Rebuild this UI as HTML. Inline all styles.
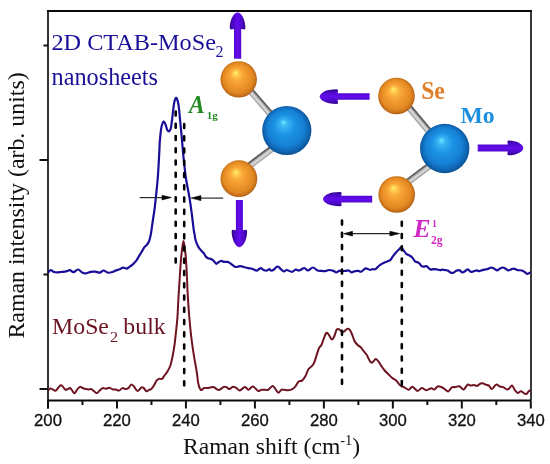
<!DOCTYPE html>
<html><head><meta charset="utf-8"><title>Raman spectra</title>
<style>html,body{margin:0;padding:0;background:#fff;}svg{display:block;}</style>
</head><body>
<svg width="550" height="464" viewBox="0 0 550 464">
<defs>
<radialGradient id="seg" cx="0.5" cy="0.5" r="0.53" fx="0.41" fy="0.31">
<stop offset="0" stop-color="#fff080"/>
<stop offset="0.12" stop-color="#ffd052"/>
<stop offset="0.32" stop-color="#f8a838"/>
<stop offset="0.58" stop-color="#ee942a"/>
<stop offset="0.78" stop-color="#e08822"/>
<stop offset="0.9" stop-color="#c87018"/>
<stop offset="1" stop-color="#985414"/>
</radialGradient>
<radialGradient id="mog" cx="0.5" cy="0.5" r="0.53" fx="0.43" fy="0.33">
<stop offset="0" stop-color="#70e8ff"/>
<stop offset="0.13" stop-color="#3cb6f4"/>
<stop offset="0.4" stop-color="#1c92e4"/>
<stop offset="0.7" stop-color="#1580d4"/>
<stop offset="0.86" stop-color="#0f66b4"/>
<stop offset="1" stop-color="#0a4680"/>
</radialGradient>
<linearGradient id="arrg" x1="0" y1="0" x2="0" y2="1">
<stop offset="0" stop-color="#34088a"/>
<stop offset="0.2" stop-color="#4a08c6"/>
<stop offset="0.5" stop-color="#640cec"/>
<stop offset="0.8" stop-color="#4a08c4"/>
<stop offset="1" stop-color="#2e0878"/>
</linearGradient>
<linearGradient id="bg0" gradientUnits="userSpaceOnUse" x1="262.79" y1="100.04" x2="257.81" y2="104.36"><stop offset="0" stop-color="#383838"/><stop offset="0.2" stop-color="#727272"/><stop offset="0.52" stop-color="#dcdcdc"/><stop offset="0.78" stop-color="#c8c8c8"/><stop offset="1" stop-color="#888888"/></linearGradient><linearGradient id="bg1" gradientUnits="userSpaceOnUse" x1="259.91" y1="153.56" x2="263.89" y2="158.84"><stop offset="0" stop-color="#383838"/><stop offset="0.2" stop-color="#727272"/><stop offset="0.52" stop-color="#dcdcdc"/><stop offset="0.78" stop-color="#c8c8c8"/><stop offset="1" stop-color="#888888"/></linearGradient><linearGradient id="bg2" gradientUnits="userSpaceOnUse" x1="422.43" y1="118.28" x2="417.37" y2="122.52"><stop offset="0" stop-color="#383838"/><stop offset="0.2" stop-color="#727272"/><stop offset="0.52" stop-color="#dcdcdc"/><stop offset="0.78" stop-color="#c8c8c8"/><stop offset="1" stop-color="#888888"/></linearGradient><linearGradient id="bg3" gradientUnits="userSpaceOnUse" x1="417.41" y1="170.56" x2="421.39" y2="175.84"><stop offset="0" stop-color="#383838"/><stop offset="0.2" stop-color="#727272"/><stop offset="0.52" stop-color="#dcdcdc"/><stop offset="0.78" stop-color="#c8c8c8"/><stop offset="1" stop-color="#888888"/></linearGradient></defs>
<rect width="550" height="464" fill="#fff"/>
<g fill="none" stroke="#111" stroke-width="2">
<line x1="48" y1="10" x2="48" y2="408.6" stroke="#333"/>
<line x1="531" y1="10" x2="531" y2="400.5" stroke="#3a3a3a"/>
<path d="M47,11 L532,11 M47,400.6 L531,400.6" stroke="#0a0a0a"/>
<line x1="48.00" y1="400.5" x2="48.00" y2="408.50"/><line x1="82.49" y1="400.5" x2="82.49" y2="405.00"/><line x1="116.97" y1="400.5" x2="116.97" y2="408.50"/><line x1="151.46" y1="400.5" x2="151.46" y2="405.00"/><line x1="185.94" y1="400.5" x2="185.94" y2="408.50"/><line x1="220.43" y1="400.5" x2="220.43" y2="405.00"/><line x1="254.91" y1="400.5" x2="254.91" y2="408.50"/><line x1="289.40" y1="400.5" x2="289.40" y2="405.00"/><line x1="323.89" y1="400.5" x2="323.89" y2="408.50"/><line x1="358.37" y1="400.5" x2="358.37" y2="405.00"/><line x1="392.86" y1="400.5" x2="392.86" y2="408.50"/><line x1="427.34" y1="400.5" x2="427.34" y2="405.00"/><line x1="461.83" y1="400.5" x2="461.83" y2="408.50"/><line x1="496.31" y1="400.5" x2="496.31" y2="405.00"/><line x1="530.80" y1="400.5" x2="530.80" y2="408.50"/>
<line x1="43.5" y1="45.5" x2="48" y2="45.5"/><line x1="39.5" y1="160.0" x2="48" y2="160.0"/><line x1="43.5" y1="274.5" x2="48" y2="274.5"/><line x1="39.5" y1="389.0" x2="48" y2="389.0"/>
</g>
<path d="M48.0,272.7 C48.5,272.2 49.8,270.1 50.7,270.0 C51.6,269.9 52.5,271.4 53.5,271.8 C54.5,272.2 55.8,272.4 57.0,272.4 C58.2,272.4 59.2,272.2 60.7,272.0 C62.2,271.8 64.7,271.6 66.2,271.3 C67.7,271.0 68.6,270.1 69.8,270.2 C71.0,270.3 72.1,272.3 73.5,272.2 C74.9,272.1 76.5,269.4 78.0,269.5 C79.5,269.6 81.1,272.1 82.5,272.7 C83.9,273.3 84.8,273.4 86.2,273.3 C87.6,273.2 89.2,272.1 90.7,271.8 C92.2,271.5 93.8,271.5 95.3,271.6 C96.8,271.8 98.4,272.9 99.8,272.7 C101.2,272.5 102.1,270.5 103.5,270.5 C104.9,270.5 106.5,272.4 108.0,272.7 C109.5,272.9 111.2,272.4 112.5,272.0 C113.8,271.6 114.3,271.1 115.5,270.6 C116.7,270.2 118.5,269.8 119.8,269.3 C121.1,268.8 121.9,267.7 123.1,267.6 C124.3,267.5 125.6,268.8 126.8,268.6 C128.0,268.4 129.1,267.1 130.1,266.4 C131.1,265.7 132.1,264.9 132.8,264.3 C133.6,263.7 134.0,263.2 134.6,262.5 C135.2,261.8 135.8,261.3 136.5,260.3 C137.2,259.3 138.1,257.7 138.8,256.5 C139.5,255.3 140.2,254.2 140.8,253.2 C141.4,252.2 141.9,251.2 142.5,250.3 C143.1,249.4 143.4,248.5 144.1,247.6 C144.8,246.7 145.9,245.8 146.6,245.0 C147.3,244.2 147.9,243.5 148.4,242.6 C148.9,241.7 149.3,240.8 149.7,239.3 C150.1,237.8 150.5,236.3 151.0,233.4 C151.5,230.5 152.0,226.3 152.6,222.1 C153.2,217.9 154.1,212.8 154.7,208.1 C155.3,203.4 155.7,198.7 156.2,194.0 C156.7,189.3 157.2,184.8 157.6,180.0 C158.0,175.2 158.3,170.0 158.6,165.0 C158.9,160.0 159.2,153.9 159.4,150.0 C159.6,146.1 159.5,145.1 159.8,141.7 C160.1,138.3 160.6,132.7 161.0,129.7 C161.4,126.7 161.9,124.9 162.4,123.6 C162.9,122.2 163.3,121.4 163.8,121.6 C164.3,121.8 164.9,123.2 165.5,124.5 C166.1,125.8 166.6,128.5 167.2,129.7 C167.8,130.8 168.4,131.6 169.0,131.4 C169.6,131.2 170.2,130.5 170.7,128.8 C171.2,127.1 171.5,124.0 171.9,121.0 C172.3,118.0 172.7,114.0 173.1,110.7 C173.5,107.4 174.0,103.4 174.5,101.2 C175.0,99.0 175.5,98.1 175.9,97.8 C176.3,97.5 176.8,98.5 177.2,99.5 C177.6,100.5 178.0,102.0 178.3,103.8 C178.6,105.6 178.9,107.2 179.2,110.3 C179.5,113.4 179.9,118.4 180.3,122.4 C180.7,126.4 181.1,130.2 181.5,134.5 C181.9,138.8 182.3,143.7 182.7,148.3 C183.1,152.9 183.6,158.4 184.0,162.0 C184.4,165.6 184.6,167.3 184.9,170.0 C185.2,172.7 185.5,175.2 185.9,178.0 C186.3,180.8 186.9,183.6 187.5,187.0 C188.1,190.4 188.9,193.9 189.6,198.4 C190.3,202.9 191.1,208.8 191.8,214.0 C192.5,219.2 193.2,226.0 193.7,229.5 C194.2,233.0 194.3,233.1 194.7,235.0 C195.0,236.9 195.1,238.9 195.8,241.0 C196.5,243.1 197.7,245.7 198.7,247.4 C199.7,249.1 200.8,250.0 201.6,251.0 C202.4,252.0 203.1,252.2 203.8,253.2 C204.5,254.2 205.3,256.0 206.0,256.8 C206.7,257.7 207.3,257.9 208.2,258.3 C209.0,258.7 210.2,258.6 211.1,259.0 C211.9,259.4 212.5,259.7 213.3,260.5 C214.2,261.3 215.3,263.5 216.2,263.8 C217.0,264.1 217.6,262.8 218.4,262.3 C219.2,261.8 220.3,261.0 221.3,260.9 C222.3,260.8 223.2,261.7 224.2,261.9 C225.2,262.1 226.2,261.8 227.1,261.9 C227.9,262.0 228.5,262.1 229.3,262.6 C230.2,263.1 231.1,264.1 232.2,264.8 C233.3,265.5 234.7,266.8 235.8,267.0 C236.9,267.2 237.7,266.4 238.7,266.3 C239.7,266.2 240.6,266.1 241.6,266.3 C242.6,266.5 243.4,267.0 244.5,267.3 C245.6,267.6 247.1,268.0 248.2,268.2 C249.3,268.4 250.1,268.3 251.1,268.5 C252.1,268.7 253.0,269.2 254.0,269.6 C255.0,270.0 255.8,270.8 256.9,270.6 C258.0,270.4 259.4,268.3 260.5,268.2 C261.6,268.1 262.5,269.5 263.5,269.9 C264.5,270.3 265.4,270.7 266.4,270.6 C267.4,270.5 268.6,269.2 269.3,269.2 C270.0,269.2 270.1,270.4 270.8,270.5 C271.5,270.6 272.6,270.4 273.7,269.7 C274.8,269.0 276.3,266.7 277.4,266.5 C278.5,266.3 279.2,267.8 280.3,268.6 C281.4,269.4 282.8,271.3 283.9,271.5 C285.0,271.7 285.5,269.9 286.8,270.0 C288.1,270.1 290.4,271.9 291.9,271.9 C293.3,271.8 294.3,269.9 295.5,269.7 C296.7,269.5 297.7,270.8 299.2,270.5 C300.7,270.2 302.9,268.0 304.3,268.0 C305.8,268.0 306.4,270.6 307.9,270.5 C309.3,270.4 311.4,267.5 313.0,267.5 C314.6,267.5 315.9,269.9 317.4,270.5 C318.8,271.1 320.4,270.8 321.7,270.9 C323.0,271.0 324.2,271.3 325.4,271.2 C326.6,271.1 327.7,270.1 329.0,270.0 C330.3,269.9 332.2,270.5 333.4,270.9 C334.6,271.3 335.3,272.3 336.3,272.3 C337.3,272.3 338.2,271.1 339.2,270.9 C340.2,270.7 341.4,271.0 342.5,271.0 C343.6,271.0 344.8,270.9 345.8,270.8 C346.8,270.7 347.7,270.2 348.7,270.5 C349.7,270.8 350.6,272.2 351.6,272.3 C352.6,272.4 353.4,271.6 354.5,271.3 C355.6,271.1 357.1,270.7 358.2,270.8 C359.3,270.9 359.9,272.1 361.1,271.7 C362.3,271.3 364.1,268.7 365.5,268.4 C366.9,268.1 368.6,269.7 369.8,269.8 C371.0,269.9 371.7,269.2 372.7,269.1 C373.7,269.0 374.5,269.7 375.6,269.1 C376.7,268.5 378.2,266.4 379.3,265.5 C380.4,264.6 381.1,264.2 382.2,263.6 C383.3,263.0 384.5,262.7 385.8,262.1 C387.1,261.5 389.0,261.1 390.2,260.1 C391.4,259.1 392.1,257.3 393.1,256.0 C394.1,254.7 395.0,253.5 396.0,252.4 C397.0,251.3 398.0,250.3 398.9,249.5 C399.8,248.7 400.2,247.4 401.1,247.6 C402.0,247.8 403.1,249.9 404.0,250.9 C404.9,251.9 405.3,253.1 406.2,253.8 C407.1,254.5 408.1,254.7 409.1,255.3 C410.1,255.9 411.0,256.2 412.0,257.2 C413.0,258.2 413.8,260.2 414.9,261.1 C416.0,262.1 417.7,262.1 418.8,262.9 C419.9,263.7 420.7,265.5 421.5,266.1 C422.3,266.7 422.9,266.6 423.7,266.6 C424.5,266.6 425.7,265.9 426.5,266.1 C427.3,266.3 427.9,267.4 428.6,268.0 C429.3,268.6 430.0,269.4 430.8,269.6 C431.6,269.8 432.5,269.1 433.5,269.1 C434.5,269.1 435.7,269.2 436.8,269.4 C437.9,269.6 439.1,270.2 440.1,270.2 C441.1,270.2 441.9,269.6 442.8,269.6 C443.7,269.6 444.7,270.1 445.5,270.2 C446.3,270.3 446.9,270.1 447.7,270.5 C448.5,270.9 449.6,272.0 450.5,272.4 C451.4,272.8 452.3,273.1 453.2,272.9 C454.1,272.7 454.9,271.4 455.9,271.0 C456.9,270.6 458.1,270.0 459.2,270.2 C460.3,270.4 461.5,272.3 462.5,272.4 C463.5,272.5 464.3,271.5 465.2,271.0 C466.1,270.5 467.0,269.3 467.9,269.4 C468.8,269.5 469.7,271.5 470.6,271.8 C471.5,272.1 472.4,271.6 473.4,271.4 C474.4,271.1 475.9,270.3 476.8,270.3 C477.7,270.3 478.1,271.2 479.0,271.2 C479.9,271.2 481.3,270.4 482.4,270.1 C483.5,269.8 484.9,269.6 485.8,269.4 C486.7,269.2 487.1,269.2 488.0,268.9 C488.9,268.6 490.4,267.6 491.4,267.5 C492.4,267.4 493.2,268.1 494.2,268.6 C495.1,269.1 496.2,270.3 497.1,270.3 C498.1,270.3 499.0,269.1 499.9,268.6 C500.8,268.1 501.8,267.5 502.7,267.5 C503.6,267.5 504.6,268.1 505.5,268.6 C506.4,269.1 507.4,270.4 508.3,270.5 C509.2,270.6 510.2,269.7 511.1,269.4 C512.1,269.1 513.0,268.5 514.0,268.6 C515.0,268.7 516.1,269.8 517.4,270.1 C518.7,270.4 520.6,270.1 521.9,270.5 C523.2,270.9 524.3,271.9 525.2,272.5 C526.1,273.1 526.6,273.9 527.5,273.9 C528.4,273.8 530.0,272.5 530.5,272.2" fill="none" stroke="#1a0e98" stroke-width="2.2" stroke-linejoin="round"/>
<path d="M48.3,390.2 C48.7,389.9 49.8,388.6 50.5,388.5 C51.2,388.4 51.8,389.0 52.6,389.4 C53.4,389.8 54.5,390.9 55.4,390.7 C56.3,390.5 57.2,388.9 58.1,388.0 C59.0,387.1 60.0,385.5 60.8,385.3 C61.6,385.1 62.3,386.2 63.0,386.9 C63.7,387.6 64.4,389.2 65.2,389.6 C66.0,390.0 67.1,389.4 67.9,389.1 C68.7,388.8 69.4,387.7 70.1,388.0 C70.8,388.3 71.6,389.8 72.3,390.7 C73.0,391.6 73.7,393.4 74.5,393.2 C75.3,393.0 76.3,390.7 77.2,389.6 C78.1,388.6 79.0,387.2 79.9,386.9 C80.8,386.6 81.6,387.6 82.6,388.0 C83.6,388.4 84.9,388.9 85.9,389.1 C86.9,389.3 87.7,389.4 88.6,389.4 C89.5,389.4 90.5,388.8 91.4,389.1 C92.3,389.4 93.2,390.6 94.1,391.3 C95.0,392.0 95.9,393.2 96.8,393.1 C97.7,393.0 98.5,391.5 99.5,390.7 C100.5,389.9 101.7,388.4 102.8,388.1 C103.9,387.8 104.9,388.9 106.0,388.8 C107.1,388.7 108.2,387.6 109.3,387.7 C110.4,387.8 111.4,388.9 112.5,389.2 C113.6,389.5 114.7,389.3 115.8,389.5 C116.9,389.7 118.0,390.8 119.1,390.6 C120.2,390.4 121.3,388.4 122.4,388.1 C123.5,387.8 124.6,389.0 125.6,389.0 C126.6,389.0 127.5,388.8 128.4,388.1 C129.3,387.4 130.2,384.9 131.1,384.6 C132.0,384.3 132.7,385.2 133.8,386.3 C134.9,387.4 136.3,390.8 137.6,391.0 C138.9,391.2 140.5,387.9 141.5,387.4 C142.5,386.9 142.8,387.3 143.6,387.9 C144.4,388.5 145.5,390.9 146.4,391.2 C147.3,391.5 148.2,390.3 149.1,389.9 C150.0,389.4 150.9,389.4 151.8,388.5 C152.7,387.6 153.7,386.0 154.5,384.6 C155.3,383.2 155.9,381.3 156.7,380.3 C157.5,379.3 158.2,379.1 159.1,378.8 C160.0,378.6 161.3,379.3 162.2,378.8 C163.0,378.3 163.3,377.0 164.2,375.8 C165.0,374.6 166.3,373.4 167.3,371.7 C168.3,370.0 169.6,367.9 170.4,365.5 C171.2,363.1 171.7,360.7 172.4,357.3 C173.1,353.9 173.9,349.1 174.5,345.0 C175.1,340.9 175.4,337.6 175.9,332.8 C176.4,328.0 177.1,322.4 177.5,316.4 C177.9,310.4 178.1,303.4 178.5,297.0 C178.9,290.6 179.3,284.1 179.7,278.1 C180.1,272.1 180.5,265.8 180.9,260.9 C181.3,256.0 181.7,252.1 182.1,248.8 C182.5,245.5 183.0,241.0 183.5,241.0 C184.0,241.0 184.5,245.5 184.9,248.8 C185.3,252.1 185.8,256.0 186.1,260.9 C186.4,265.8 186.7,272.2 187.0,278.1 C187.3,284.0 187.4,289.7 187.8,296.0 C188.2,302.3 188.7,309.9 189.2,316.0 C189.7,322.1 190.2,327.3 190.8,332.8 C191.4,338.3 192.2,344.3 192.9,349.1 C193.6,353.9 194.2,357.3 194.9,361.4 C195.6,365.5 196.5,370.3 197.0,373.7 C197.5,377.1 197.6,379.5 198.0,381.9 C198.4,384.3 199.0,386.6 199.6,388.0 C200.2,389.4 200.9,390.1 201.7,390.1 C202.4,390.1 203.0,388.4 204.1,388.0 C205.2,387.6 206.8,388.2 208.2,388.0 C209.6,387.8 211.2,387.1 212.3,387.0 C213.4,386.9 214.3,387.3 215.0,387.7 C215.7,388.1 215.8,388.8 216.5,389.1 C217.2,389.5 218.3,390.2 219.5,389.8 C220.7,389.4 222.6,387.3 223.8,386.9 C225.0,386.5 225.7,386.9 226.7,387.3 C227.7,387.7 228.6,389.2 229.6,389.1 C230.6,389.0 231.4,387.1 232.5,386.9 C233.6,386.7 235.0,387.3 236.2,387.9 C237.4,388.5 238.4,390.7 239.8,390.5 C241.2,390.3 243.5,387.0 244.9,386.9 C246.3,386.8 247.2,389.9 248.5,389.8 C249.8,389.7 251.3,386.3 252.9,386.5 C254.5,386.7 256.6,390.2 258.0,390.8 C259.4,391.4 260.4,390.0 261.6,389.8 C262.8,389.6 264.2,389.8 265.3,389.8 C266.4,389.8 267.0,390.5 268.2,389.8 C269.4,389.1 271.3,386.0 272.5,385.9 C273.7,385.8 274.5,388.0 275.5,389.1 C276.5,390.2 277.4,392.6 278.4,392.7 C279.4,392.8 280.3,390.3 281.3,389.8 C282.3,389.3 283.1,389.7 284.2,389.8 C285.3,389.9 286.8,390.4 288.2,390.3 C289.6,390.2 291.1,389.9 292.3,389.2 C293.5,388.5 294.4,387.6 295.5,386.3 C296.6,385.0 297.6,382.3 298.7,381.4 C299.8,380.4 300.9,381.4 302.0,380.6 C303.1,379.8 304.1,378.5 305.2,376.6 C306.3,374.7 307.3,371.1 308.4,369.3 C309.5,367.6 310.8,367.2 311.7,366.1 C312.6,365.0 313.3,364.6 314.1,362.8 C314.9,361.1 315.7,358.0 316.5,355.6 C317.3,353.2 318.1,350.1 318.9,348.3 C319.7,346.5 320.6,346.6 321.4,345.0 C322.2,343.4 323.0,340.6 323.8,338.6 C324.6,336.6 325.4,333.6 326.2,332.9 C327.0,332.2 327.7,333.4 328.6,334.5 C329.6,335.6 330.9,339.1 331.9,339.4 C332.8,339.7 333.5,337.8 334.3,336.2 C335.1,334.6 335.9,330.8 336.7,329.7 C337.5,328.6 338.3,329.1 339.1,329.4 C339.9,329.7 340.8,330.9 341.6,331.3 C342.4,331.7 343.1,332.0 344.0,331.6 C344.9,331.2 346.3,329.2 347.2,328.9 C348.1,328.6 348.8,328.8 349.6,329.7 C350.4,330.6 351.3,332.6 352.1,334.5 C352.9,336.4 353.6,339.2 354.5,341.0 C355.4,342.8 356.6,343.9 357.7,345.0 C358.8,346.1 360.1,346.6 361.0,347.5 C361.9,348.4 362.0,349.0 362.9,350.2 C363.8,351.4 365.5,353.1 366.5,354.5 C367.5,355.9 368.0,357.6 368.7,358.9 C369.4,360.2 370.2,362.0 370.9,362.5 C371.6,363.0 372.3,362.4 373.1,361.8 C373.9,361.2 374.9,359.0 375.7,358.9 C376.5,358.8 377.3,360.0 378.2,361.1 C379.1,362.2 380.0,363.9 381.1,365.5 C382.2,367.1 383.5,369.1 384.7,370.5 C385.9,371.9 387.2,373.0 388.4,374.2 C389.6,375.4 390.7,376.7 392.0,377.8 C393.3,378.9 395.2,379.6 396.4,380.7 C397.6,381.8 398.4,383.5 399.3,384.4 C400.2,385.3 400.6,385.8 401.5,386.3 C402.4,386.8 403.2,386.7 404.4,387.3 C405.6,387.9 407.4,389.8 408.7,389.7 C410.0,389.6 410.9,386.6 412.4,386.8 C413.9,387.0 415.9,390.7 417.5,390.9 C419.1,391.1 420.4,388.1 421.8,388.0 C423.2,387.9 424.6,390.1 426.2,390.2 C427.8,390.2 430.0,388.4 431.3,388.3 C432.6,388.2 433.1,389.8 434.2,389.5 C435.3,389.2 436.6,386.9 437.7,386.5 C438.8,386.1 439.4,386.4 440.5,386.8 C441.6,387.2 442.8,387.8 444.1,388.6 C445.4,389.4 446.9,391.6 448.2,391.4 C449.5,391.2 450.6,388.0 451.8,387.3 C453.0,386.6 454.2,387.3 455.5,387.1 C456.8,386.9 458.1,385.8 459.5,386.2 C460.9,386.6 462.2,389.8 463.6,389.5 C465.0,389.2 466.5,385.3 467.7,384.7 C468.9,384.1 469.8,385.6 470.9,385.6 C472.0,385.7 473.1,384.9 474.1,385.0 C475.1,385.1 475.7,386.1 476.8,385.9 C477.9,385.7 479.6,384.1 480.5,383.6 C481.4,383.2 481.5,383.0 482.4,383.2 C483.3,383.4 484.6,384.2 485.7,384.6 C486.8,385.0 488.0,384.9 489.0,385.6 C490.0,386.3 490.6,389.1 491.8,388.9 C493.0,388.7 494.8,385.0 496.1,384.6 C497.4,384.2 498.6,386.1 499.8,386.5 C501.0,386.9 502.1,386.7 503.2,387.2 C504.3,387.7 505.6,389.1 506.5,389.4 C507.4,389.7 507.9,389.5 508.8,388.9 C509.7,388.3 511.1,385.4 512.1,385.6 C513.1,385.8 514.0,389.1 515.0,390.3 C516.0,391.5 516.8,392.7 517.8,392.9 C518.8,393.1 519.8,391.1 521.1,391.3 C522.4,391.5 524.6,394.1 525.8,394.1 C527.0,394.2 527.7,392.3 528.5,391.6 C529.3,390.9 530.2,390.3 530.5,390.0" fill="none" stroke="#6e1420" stroke-width="2" stroke-linejoin="round"/>
<g stroke="#000" stroke-width="2.6" stroke-dasharray="4.0 8.25" stroke-linecap="round" fill="none">
<line x1="175.7" y1="110.2" x2="175.7" y2="264.0" stroke-dashoffset="-1.3"/>
<line x1="184.2" y1="122.8" x2="184.2" y2="387.0" stroke-dashoffset="-1.3"/>
<line x1="342.0" y1="219.3" x2="342.0" y2="385.0" stroke-dashoffset="-1.3"/>
<line x1="401.8" y1="220.5" x2="401.8" y2="387.0" stroke-dashoffset="-1.3"/>
</g>
<g stroke="#2a2a2a" stroke-width="1.2" fill="none">
<line x1="139.7" y1="197.6" x2="163" y2="197.6"/>
<line x1="200" y1="198.1" x2="223.2" y2="198.1"/>
<line x1="351" y1="233.7" x2="391" y2="233.6"/>
</g>
<g fill="#050505" stroke="#050505" stroke-width="0.6" stroke-linejoin="round">
<path d="M171.40,197.60 L162.00,195.30 L162.00,199.90 Z"/>
<path d="M191.10,198.10 L200.90,195.60 L200.90,200.60 Z"/>
<path d="M343.70,233.70 L352.50,231.30 L352.50,236.10 Z"/>
<path d="M399.60,233.60 L389.90,231.25 L389.90,235.95 Z"/>
</g>
<line x1="240.6" y1="79.6" x2="276.0" y2="120.3" stroke="url(#bg0)" stroke-width="6.6"/>
<line x1="237.9" y1="174.3" x2="281.1" y2="141.8" stroke="url(#bg1)" stroke-width="6.6"/>
<line x1="400.6" y1="97.4" x2="435.3" y2="138.8" stroke="url(#bg2)" stroke-width="6.6"/>
<line x1="395.4" y1="191.3" x2="438.6" y2="158.8" stroke="url(#bg3)" stroke-width="6.6"/>
<circle cx="238.7" cy="79.4" r="18.2" fill="url(#seg)"/>
<circle cx="238.9" cy="178.7" r="18.4" fill="url(#seg)"/>
<circle cx="286.8" cy="130.5" r="24.6" fill="url(#mog)"/>
<circle cx="396.5" cy="96.0" r="18.3" fill="url(#seg)"/>
<circle cx="396.7" cy="194.5" r="18.3" fill="url(#seg)"/>
<circle cx="444.7" cy="148.5" r="24.7" fill="url(#mog)"/>
<path transform="translate(237.60,58.80) rotate(-90.0)" d="M0,-3.60 L29.80,-3.60 L29.30,-6.71 Q29.60,-7.80 31.10,-7.80 C38.74,-7.80 46.30,-3.90 46.30,0 C46.30,3.90 38.74,7.80 31.10,7.80 Q29.60,7.80 29.30,6.71 L29.80,3.60 L0,3.60 Z" fill="url(#arrg)"/>
<path transform="translate(239.40,200.00) rotate(90.0)" d="M0,-3.50 L30.30,-3.50 L29.80,-6.67 Q30.10,-7.75 31.60,-7.75 C39.46,-7.75 47.20,-3.88 47.20,0 C47.20,3.88 39.46,7.75 31.60,7.75 Q30.10,7.75 29.80,6.67 L30.30,3.50 L0,3.50 Z" fill="url(#arrg)"/>
<path transform="translate(369.60,96.60) rotate(180.0)" d="M0,-3.25 L32.00,-3.25 L31.50,-6.36 Q31.80,-7.40 33.30,-7.40 C44.51,-7.40 49.09,-3.70 50.00,0 C49.09,3.70 44.51,7.40 33.30,7.40 Q31.80,7.40 31.50,6.36 L32.00,3.25 L0,3.25 Z" fill="url(#arrg)"/>
<path transform="translate(372.20,199.10) rotate(180.0)" d="M0,-3.30 L31.00,-3.30 L30.50,-6.19 Q30.80,-7.20 32.30,-7.20 C43.72,-7.20 48.37,-3.60 49.30,0 C48.37,3.60 43.72,7.20 32.30,7.20 Q30.80,7.20 30.50,6.19 L31.00,3.30 L0,3.30 Z" fill="url(#arrg)"/>
<path transform="translate(477.70,147.90) rotate(0.0)" d="M0,-3.50 L30.10,-3.50 L29.60,-6.32 Q29.90,-7.35 31.40,-7.35 C38.49,-7.35 45.60,-3.67 45.60,0 C45.60,3.67 38.49,7.35 31.40,7.35 Q29.90,7.35 29.60,6.32 L30.10,3.50 L0,3.50 Z" fill="url(#arrg)"/>
<g font-family="Liberation Serif, serif">
<text transform="translate(51.40,49.80) scale(1,0.990)" font-size="24.30" fill="#1a1098" >2D CTAB-MoSe<tspan font-size="16" dx="-0.5" dy="7">2</tspan></text>
<text transform="translate(51.50,85.30) scale(1,1.020)" font-size="24.30" fill="#1a1098" >nanosheets</text>
<text transform="translate(52.10,334.40) scale(1,0.940)" font-size="23.80" fill="#6a1220" >MoSe<tspan font-size="16.2" dx="1.0" dy="8.6">2</tspan><tspan dx="-0.6" dy="-8.6"> bulk</tspan></text>
<text transform="translate(189.00,112.60) scale(1,1.030)" font-size="23.50" fill="#248a24" font-weight="bold" font-style="italic">A</text>
<text transform="translate(206.80,119.40) scale(1,1.000)" font-size="11.00" fill="#248a24" font-weight="bold">1g</text>
<text transform="translate(413.40,237.10) scale(1,0.970)" font-size="25.60" fill="#d02ac2" font-weight="bold" font-style="italic">E</text>
<text transform="translate(432.00,227.40) scale(1,1.000)" font-size="9.80" fill="#d02ac2" font-weight="bold">1</text>
<text transform="translate(431.00,244.20) scale(1,1.000)" font-size="11.60" fill="#d02ac2" font-weight="bold">2g</text>
<text transform="translate(421.20,98.80) scale(1,1.070)" font-size="23.60" fill="#e07e28" font-weight="bold">Se</text>
<text transform="translate(460.50,122.50) scale(1,0.990)" font-size="23.70" fill="#1e8ede" font-weight="bold">Mo</text>
<text transform="translate(183.00,454.40) scale(1,1.020)" font-size="23.60" fill="#111" >Raman shift (cm<tspan font-size="14.5" dy="-9.5">-1</tspan><tspan dy="9.5">)</tspan></text>
<text transform="translate(24.3,338.6) rotate(-90)" font-size="23.85" fill="#111">Raman intensity (arb. units)</text>
</g>
<g font-family="Liberation Sans, sans-serif" font-size="16.7" fill="#111" stroke="#111" stroke-width="0.3">
<text x="48.00" y="426.0" text-anchor="middle">200</text><text x="116.97" y="426.0" text-anchor="middle">220</text><text x="185.94" y="426.0" text-anchor="middle">240</text><text x="254.91" y="426.0" text-anchor="middle">260</text><text x="323.89" y="426.0" text-anchor="middle">280</text><text x="392.86" y="426.0" text-anchor="middle">300</text><text x="461.83" y="426.0" text-anchor="middle">320</text><text x="530.80" y="426.0" text-anchor="middle">340</text>
</g>
</svg>
</body></html>
